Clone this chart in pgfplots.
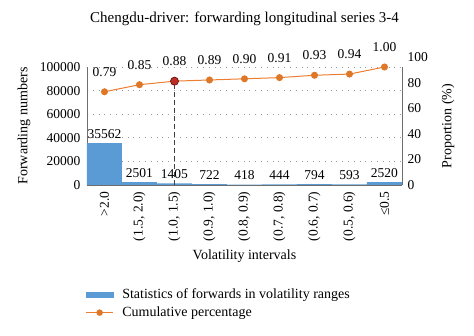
\documentclass[border=0pt]{standalone}
\usepackage{pgfplots}
\pgfplotsset{compat=1.18}
\usepackage{fontspec}
\setmainfont{Liberation Serif}
\definecolor{barblue}{RGB}{91,155,213}
\definecolor{lineorange}{RGB}{237,125,49}
\definecolor{markorange}{RGB}{222,120,40}
\definecolor{hired}{RGB}{190,45,35}
\definecolor{axgray}{RGB}{110,110,110}
\newcommand{\tf}{\fontsize{13.5}{15}\selectfont}
\newcommand{\lf}{\fontsize{14}{16}\selectfont}
\begin{document}
\begin{tikzpicture}
\path[use as bounding box] (-87pt,-151pt) rectangle (387pt,185pt);
\pgfplotsset{
  every axis/.append style={
    scale only axis, width=315pt, height=118pt,
    at={(0,0)}, anchor=south west,
    xmin=-0.5, xmax=8.5,
    /pgf/number format/fixed,
    /pgf/number format/1000 sep={},
    /pgf/number format/assume math mode=true,
    major tick length=0pt,
    tick label style={font=\tf},
    label style={font=\lf},
  }
}
\begin{axis}[
  axis y line*=left, axis x line*=bottom,
  ymin=0, ymax=100000,
  ytick={0,20000,40000,60000,80000,100000},
  scaled y ticks=false,
  ymajorgrids,
  grid style={gray!80, line width=0.8pt, dash pattern=on 0.8pt off 5pt},
  axis line style={axgray, line width=0.8pt},
  xtick={0,...,8},
  xticklabels={{>2.0},{(1.5, 2.0)},{(1.0, 1.5)},{(0.9, 1.0)},{(0.8, 0.9)},{(0.7, 0.8)},{(0.6, 0.7)},{(0.5, 0.6)},{≤0.5}},
  xticklabel style={rotate=90, anchor=east, xshift=-3pt},
  yticklabel style={xshift=-3pt},
  title={Chengdu-driver: forwarding longitudinal series 3-4},
  title style={font=\fontsize{15}{17}\selectfont, at={(axis description cs:0.5,1)}, anchor=south, yshift=32pt},
  ylabel={Forwarding numbers},
  ylabel style={at={(axis description cs:-0.2,0.5)}, anchor=center},
  xlabel={Volatility intervals},
  xlabel style={at={(axis description cs:0.5,-0.60)}, anchor=center},
  legend style={at={(axis description cs:-0.005,-0.86)}, anchor=north west, draw=none, fill=none, font=\lf, row sep=3pt, inner sep=0pt},
  legend cell align=left,
  clip=false,
]
\addplot[ybar, bar width=1, fill=barblue, draw=none, forget plot,
  nodes near coords, nodes near coords style={font=\tf, anchor=south, yshift=1pt}]
  coordinates {(0,35562) (1,2501) (2,1405) (3,722) (4,418) (5,444) (6,794) (7,593) (8,2520)};
\addlegendimage{legend image code/.code={\fill[barblue] (0pt,-2.5pt) rectangle (27pt,2.5pt); \path (34pt,0pt);}}
\addlegendentry{Statistics of forwards in volatility ranges}
\addlegendimage{legend image code/.code={\draw[lineorange, line width=1pt] (0pt,0pt) -- (27pt,0pt); \fill[markorange] (13.5pt,0pt) circle (3pt); \path (34pt,0pt);}}
\addlegendentry{Cumulative percentage}
\end{axis}
\begin{axis}[
  axis y line*=right, axis x line=none,
  ymin=0, ymax=1,
  ytick={0,0.216,0.432,0.648,0.864},
  yticklabels={0,20,40,60,80},
  yticklabel style={xshift=2pt},
  axis line style={axgray, line width=0.8pt},
  ylabel={Proportion (\%)},
  ylabel style={at={(axis description cs:1.146,0.5)}, anchor=center},
  clip=false,
]
\addplot[black!75, line width=0.9pt, dash pattern=on 5pt off 3pt] coordinates {(2,0) (2,0.88)};
\addplot[lineorange, line width=1pt, mark=*, mark size=3pt, mark options={fill=markorange, draw=markorange},
  nodes near coords, point meta=y,
  every node near coord/.append style={font=\tf, text=black, anchor=center, yshift=20pt, /pgf/number format/fixed, /pgf/number format/precision=2, /pgf/number format/fixed zerofill}]
  coordinates {(0,0.79) (1,0.85) (2,0.88) (3,0.89) (4,0.90) (5,0.91) (6,0.93) (7,0.94) (8,1.00)};
\addplot[only marks, mark=*, mark size=4pt, mark options={fill=hired, draw=hired!60!black, line width=0.8pt}] coordinates {(2,0.88)};
\node[font=\tf, anchor=west, xshift=2pt, inner sep=0.333em] at (rel axis cs:1,1.08) {100};
\end{axis}
\end{tikzpicture}
\end{document}
